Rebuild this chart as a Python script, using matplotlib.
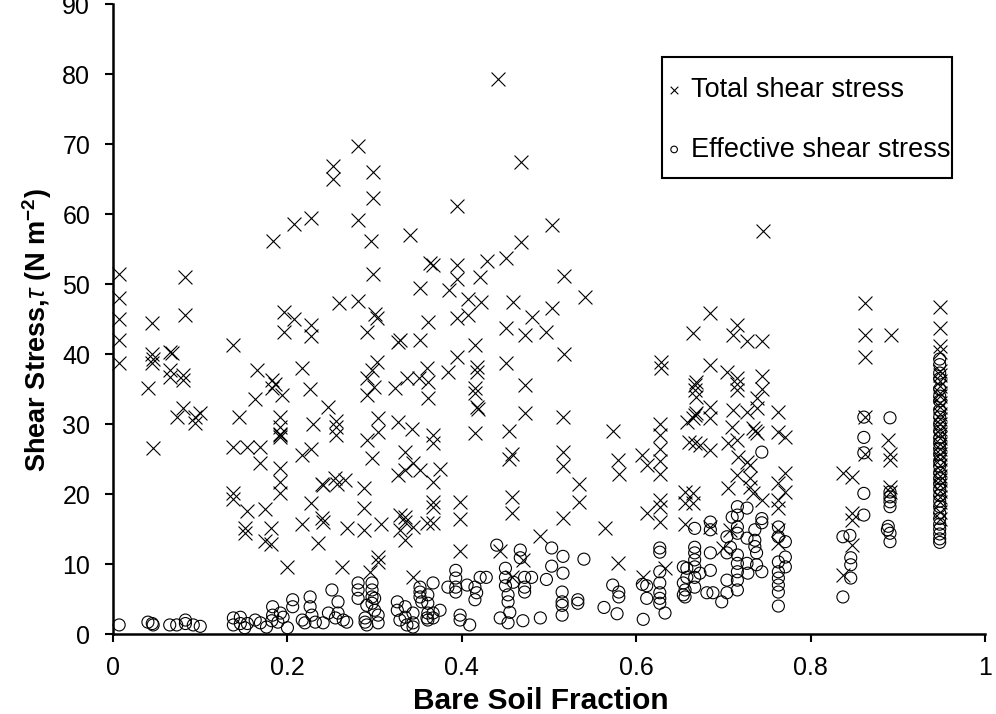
import matplotlib
matplotlib.use('Agg')
import matplotlib.pyplot as plt
from matplotlib.patches import Rectangle

plt.rcParams['font.family'] = ['Liberation Sans', 'DejaVu Sans']
plt.rcParams['mathtext.fontset'] = 'custom'
plt.rcParams['mathtext.rm'] = 'Liberation Sans:bold'
plt.rcParams['mathtext.it'] = 'Liberation Sans:italic'
plt.rcParams['mathtext.bf'] = 'Liberation Sans:bold'

# Total shear stress (x = bare soil fraction, y = N m-2)
total_x = [
    0.007, 0.007, 0.007, 0.007, 0.007,
    0.045, 0.045, 0.046, 0.045, 0.040, 0.046,
    0.065, 0.068, 0.065, 0.065, 0.073,
    0.083, 0.083, 0.080, 0.080, 0.080,
    0.094, 0.100, 0.094,
    0.138, 0.165, 0.163, 0.182, 0.182, 0.186, 0.194, 0.144, 0.138, 0.154,
    0.169, 0.169, 0.138, 0.138, 0.154, 0.174, 0.151, 0.151, 0.181, 0.174,
    0.181, 0.200,
    0.183, 0.196, 0.196, 0.192, 0.192, 0.192, 0.192, 0.192, 0.192, 0.192, 0.192,
    0.208, 0.208, 0.227, 0.227, 0.227, 0.217, 0.226, 0.229, 0.227, 0.217,
    0.227, 0.217, 0.240, 0.241, 0.240, 0.241, 0.235, 0.246, 0.252, 0.252,
    0.256, 0.256, 0.256, 0.255, 0.257, 0.266, 0.268, 0.263, 0.259,
    0.281, 0.281, 0.281, 0.298, 0.298, 0.296, 0.298, 0.300, 0.303, 0.291,
    0.303, 0.297, 0.291, 0.299, 0.291, 0.304, 0.304, 0.291, 0.297, 0.288,
    0.288, 0.288, 0.307, 0.304, 0.304, 0.295,
    0.341, 0.352, 0.364, 0.361, 0.327, 0.329, 0.352, 0.323, 0.337, 0.351,
    0.360, 0.361, 0.361, 0.327, 0.343, 0.367, 0.367, 0.335, 0.344, 0.335,
    0.327, 0.352, 0.375, 0.367, 0.367, 0.367, 0.329, 0.335, 0.335, 0.329,
    0.335, 0.344, 0.360, 0.367, 0.344, 0.367,
    0.394, 0.394, 0.394, 0.385, 0.407, 0.422, 0.421, 0.429, 0.451, 0.442,
    0.394, 0.407, 0.415, 0.394, 0.384, 0.417, 0.417, 0.415, 0.415, 0.417,
    0.419, 0.415, 0.398, 0.398, 0.398, 0.444, 0.451, 0.451, 0.454, 0.457,
    0.454, 0.457, 0.457, 0.457, 0.459,
    0.468, 0.468, 0.480, 0.472, 0.497, 0.503, 0.503, 0.517, 0.541, 0.517,
    0.472, 0.472, 0.516, 0.516, 0.516, 0.534, 0.534, 0.516, 0.490, 0.470,
    0.573, 0.579, 0.580, 0.564, 0.579, 0.607, 0.612, 0.612, 0.608,
    0.627, 0.627, 0.627, 0.627, 0.627, 0.628, 0.628, 0.627, 0.627, 0.627, 0.633,
    0.665, 0.685, 0.667, 0.667, 0.669, 0.669, 0.667, 0.658, 0.665, 0.669,
    0.660, 0.667, 0.673, 0.685, 0.685, 0.685, 0.685, 0.656, 0.656, 0.665,
    0.665, 0.656, 0.685, 0.700,
    0.716, 0.711, 0.727, 0.744, 0.745, 0.704, 0.716, 0.716, 0.716, 0.744,
    0.744, 0.738, 0.711, 0.727, 0.738, 0.734, 0.738, 0.736, 0.763, 0.763,
    0.771, 0.705, 0.716, 0.710, 0.717, 0.727, 0.731, 0.705, 0.716, 0.731,
    0.731, 0.734, 0.744, 0.771, 0.763, 0.771, 0.763, 0.763, 0.708, 0.763, 0.763,
    0.862, 0.862, 0.892, 0.862, 0.862, 0.862, 0.889, 0.891, 0.891, 0.891,
    0.891, 0.837, 0.847, 0.847, 0.847, 0.847, 0.837,
    0.948, 0.948, 0.948, 0.948, 0.948, 0.948, 0.948, 0.948, 0.948, 0.948,
    0.948, 0.948, 0.948, 0.948, 0.948, 0.948, 0.948, 0.948, 0.948, 0.948,
    0.948, 0.948, 0.948, 0.948, 0.948, 0.948, 0.948, 0.948, 0.948, 0.948,
    0.948, 0.948,
]
total_y = [
    51.4, 48.0, 45.0, 42.0, 38.7,
    44.4, 40.0, 39.3, 38.7, 35.1, 26.6,
    40.3, 40.1, 37.7, 36.7, 31.0,
    51.0, 45.6, 37.0, 36.3, 32.3,
    31.0, 31.6, 30.1,
    41.3, 37.7, 33.6, 36.3, 35.1, 35.8, 34.1, 31.0, 26.7, 26.7,
    26.7, 24.4, 20.1, 19.3, 17.6, 17.9, 15.1, 14.4, 15.1, 13.3,
    12.9, 9.6,
    56.2, 46.0, 43.2, 31.0, 29.6, 28.4, 28.1, 28.6, 23.7, 21.7, 20.1,
    58.6, 45.0, 59.4, 44.1, 42.6, 38.0, 35.0, 30.0, 26.4, 25.6,
    18.7, 15.7, 21.5, 21.3, 16.6, 16.0, 13.0, 32.4, 66.9, 65.1,
    30.4, 29.6, 28.4, 22.3, 21.4, 22.0, 15.1, 9.6, 47.3,
    69.7, 59.1, 47.6, 66.1, 62.3, 56.2, 51.4, 45.8, 45.1, 43.2,
    38.9, 37.7, 36.6, 35.3, 34.1, 30.9, 28.9, 27.7, 25.1, 20.9,
    18.0, 14.9, 15.7, 11.0, 10.3, 8.9,
    57.0, 49.5, 53.0, 44.6, 41.7, 42.0, 42.0, 35.1, 36.6, 36.6,
    38.0, 36.0, 33.7, 30.3, 29.3, 28.4, 27.3, 26.0, 24.5, 23.4,
    22.7, 23.4, 23.6, 21.7, 18.9, 18.2, 17.0, 16.7, 16.0, 14.9,
    13.4, 15.3, 15.8, 15.9, 8.1, 52.8,
    61.2, 52.7, 50.7, 49.1, 47.9, 47.5, 51.0, 53.3, 53.7, 79.3,
    45.1, 45.6, 41.3, 39.6, 37.4, 38.1, 37.4, 35.1, 34.4, 32.4,
    32.1, 28.7, 18.9, 16.4, 11.9, 11.9, 43.8, 38.7, 29.0, 25.7,
    25.0, 19.6, 17.3, 8.1, 47.5,
    67.4, 56.0, 45.3, 42.7, 43.2, 58.4, 46.6, 51.2, 48.2, 40.0,
    35.6, 31.6, 31.0, 26.0, 24.0, 21.4, 18.9, 16.6, 14.0, 10.6,
    29.0, 24.9, 22.9, 15.1, 10.1, 25.6, 24.2, 17.3, 8.1,
    30.0, 28.4, 26.4, 24.7, 22.8, 38.9, 38.0, 19.1, 18.2, 16.0, 9.5,
    43.0, 45.9, 35.6, 34.9, 36.0, 33.9, 31.3, 30.3, 30.9, 31.6,
    27.4, 27.3, 27.0, 38.4, 32.4, 30.9, 26.3, 20.3, 18.7, 20.1,
    18.7, 15.7, 15.3, 12.3,
    44.1, 42.7, 41.9, 41.9, 57.6, 37.4, 36.6, 35.8, 34.9, 36.9,
    35.0, 33.7, 32.0, 31.7, 32.3, 29.4, 28.7, 29.0, 31.7, 28.9,
    28.1, 27.3, 27.7, 29.6, 25.3, 24.6, 24.1, 20.9, 22.7, 22.3,
    21.0, 20.1, 19.1, 23.0, 21.6, 20.3, 19.1, 18.0, 14.9, 14.9, 13.0,
    47.3, 42.7, 42.7, 39.6, 31.0, 25.8, 27.7, 25.8, 24.9, 21.0,
    20.3, 23.0, 22.4, 17.3, 16.3, 12.7, 8.4,
    46.7, 43.8, 41.2, 40.3, 37.6, 37.0, 36.2, 35.4, 34.5, 34.0,
    33.0, 32.5, 31.5, 30.8, 30.0, 29.3, 28.6, 28.0, 27.2, 26.5,
    25.8, 25.0, 24.2, 23.5, 22.6, 22.0, 21.3, 20.5, 19.6, 18.8,
    17.5, 16.4,
]

# Effective shear stress
eff_x = [
    0.007, 0.040, 0.045, 0.046, 0.065, 0.073, 0.083, 0.083, 0.092, 0.100,
    0.138, 0.138, 0.146, 0.146, 0.151, 0.154, 0.163, 0.169, 0.176, 0.182,
    0.183, 0.183, 0.192, 0.195, 0.189, 0.200, 0.206, 0.206, 0.217, 0.220,
    0.226, 0.226, 0.228, 0.232, 0.241, 0.247, 0.251, 0.258, 0.255, 0.258,
    0.264, 0.268, 0.281, 0.281, 0.281, 0.289, 0.289, 0.297, 0.297, 0.297,
    0.297, 0.300, 0.300, 0.304, 0.304, 0.291, 0.291,
    0.326, 0.326, 0.329, 0.335, 0.335, 0.337, 0.344, 0.344, 0.344, 0.352,
    0.352, 0.354, 0.361, 0.361, 0.352, 0.361, 0.361, 0.367, 0.367, 0.360,
    0.375, 0.367, 0.384, 0.393, 0.393, 0.393, 0.393, 0.406, 0.415, 0.417,
    0.415, 0.421, 0.428, 0.398, 0.398, 0.409,
    0.440, 0.467, 0.467, 0.450, 0.450, 0.450, 0.459, 0.453, 0.453, 0.455,
    0.444, 0.453, 0.472, 0.472, 0.472, 0.470, 0.480, 0.497, 0.490, 0.503,
    0.503, 0.516, 0.516, 0.515, 0.515, 0.515, 0.515, 0.533, 0.533, 0.540,
    0.563, 0.573, 0.580, 0.580, 0.578, 0.607, 0.612, 0.612, 0.608,
    0.627, 0.627, 0.627, 0.627, 0.627, 0.627, 0.627, 0.633,
    0.654, 0.658, 0.658, 0.654, 0.656, 0.654, 0.656,
    0.667, 0.667, 0.667, 0.667, 0.667, 0.667, 0.667, 0.673,
    0.685, 0.685, 0.685, 0.685, 0.688, 0.681, 0.698,
    0.704, 0.704, 0.704, 0.704, 0.708, 0.710,
    0.716, 0.716, 0.716, 0.716, 0.716, 0.716, 0.716, 0.716, 0.716,
    0.727, 0.727, 0.727, 0.728, 0.736, 0.736, 0.736, 0.738, 0.738,
    0.744, 0.744, 0.744, 0.744,
    0.763, 0.763, 0.771, 0.771, 0.771, 0.763, 0.763, 0.763, 0.763, 0.763, 0.763,
    0.861, 0.861, 0.861, 0.861, 0.861, 0.891, 0.891, 0.891, 0.891, 0.891,
    0.888, 0.889, 0.891, 0.891, 0.837, 0.845, 0.846, 0.846, 0.846, 0.837,
    0.948, 0.948, 0.948, 0.948, 0.948, 0.948, 0.948, 0.948, 0.948, 0.948,
    0.948, 0.948, 0.948, 0.948, 0.948, 0.948, 0.948, 0.948, 0.948, 0.948,
    0.948, 0.948, 0.948, 0.948, 0.948, 0.948, 0.948, 0.948, 0.948, 0.948,
    0.948,
]
eff_y = [
    1.3, 1.7, 1.5, 1.3, 1.3, 1.3, 2.0, 1.5, 1.3, 1.1,
    2.3, 1.3, 1.5, 2.4, 0.9, 1.5, 2.0, 1.6, 1.0, 1.9,
    3.9, 2.7, 3.0, 2.4, 1.7, 0.9, 4.9, 3.9, 2.0, 1.6,
    5.3, 3.9, 2.7, 1.7, 1.6, 3.0, 6.3, 4.6, 2.3, 3.0,
    2.0, 1.7, 7.3, 6.3, 5.1, 2.3, 1.7, 7.3, 6.3, 5.3,
    4.4, 5.1, 3.4, 2.7, 1.6, 1.3, 4.1,
    4.6, 3.4, 2.0, 3.9, 2.4, 1.3, 3.0, 1.6, 1.0, 6.7,
    6.0, 4.6, 3.0, 2.0, 5.3, 5.6, 4.4, 3.0, 2.3, 2.3,
    3.4, 7.3, 6.7, 9.1, 8.0, 6.7, 6.0, 7.0, 6.7, 5.9,
    4.9, 8.1, 8.1, 2.7, 2.0, 1.3,
    12.7, 12.0, 10.9, 9.4, 8.1, 6.9, 7.4, 5.6, 4.6, 3.1,
    2.3, 1.6, 8.1, 6.7, 6.0, 1.9, 8.1, 7.8, 2.3, 12.3,
    9.7, 11.1, 8.7, 6.0, 4.6, 4.1, 2.7, 4.9, 4.4, 10.7,
    3.8, 7.0, 6.0, 5.3, 2.9, 7.1, 6.9, 5.1, 2.1,
    12.3, 11.7, 8.9, 7.3, 5.9, 5.1, 4.4, 3.0,
    9.6, 9.4, 8.1, 7.3, 6.3, 5.6, 5.3,
    15.1, 12.4, 11.6, 10.6, 9.6, 8.1, 6.7, 8.7,
    16.0, 14.9, 11.6, 9.1, 5.9, 5.9, 4.6,
    13.9, 11.6, 7.7, 5.9, 12.4, 16.7,
    18.2, 15.3, 14.4, 11.3, 10.1, 8.9, 7.7, 6.3, 17.0,
    18.0, 13.7, 10.1, 8.7, 14.9, 13.4, 12.5, 11.6, 9.9,
    26.0, 16.5, 15.9, 8.9,
    15.3, 13.9, 13.2, 11.0, 9.6, 10.3, 8.9, 8.0, 7.0, 6.0, 4.0,
    31.0, 28.1, 25.9, 20.1, 17.0, 30.9, 20.3, 19.6, 18.9, 18.2,
    14.9, 15.4, 14.4, 13.2, 13.9, 14.1, 10.9, 9.9, 8.0, 5.3,
    39.3, 38.5, 37.3, 36.5, 35.0, 34.0, 33.3, 32.0, 31.0, 30.0,
    29.0, 28.0, 27.3, 26.5, 25.7, 24.7, 24.0, 23.0, 22.2, 21.5,
    20.7, 19.8, 19.0, 18.2, 17.3, 16.5, 15.7, 15.0, 14.3, 13.6,
    13.1,
]

x_ticks = [0, 0.2, 0.4, 0.6, 0.8, 1]
x_tick_labels = ['0', '0.2', '0.4', '0.6', '0.8', '1']
y_ticks = [0, 10, 20, 30, 40, 50, 60, 70, 80, 90]

fig = plt.figure(figsize=(9.96, 7.14), dpi=100)
ax = fig.add_axes([0.1135, 0.112, 0.8755, 0.882])

ax.scatter(total_x, total_y, marker='x', s=100, color='black',
           linewidths=0.8, label='Total shear stress', clip_on=False)
ax.scatter(eff_x, eff_y, marker='o', s=75, facecolors='none',
           edgecolors='black', linewidths=0.8,
           label='Effective shear stress', clip_on=False)

ax.set_xlim(0, 1)
ax.set_ylim(0, 90)
ax.set_xticks(x_ticks)
ax.set_xticklabels(x_tick_labels)
ax.set_yticks(y_ticks)
ax.tick_params(axis='both', direction='out', length=6, width=1.5,
               labelsize=18, color='black')
ax.tick_params(axis='y', pad=10.5)
ax.tick_params(axis='x', pad=10)
for side in ['top', 'right']:
    ax.spines[side].set_visible(False)
for side in ['left', 'bottom']:
    ax.spines[side].set_linewidth(1.8)

ax.set_xlabel('Bare Soil Fraction', fontsize=21.5, fontweight='bold', labelpad=5)
ax.xaxis.label.set_x(0.491)
ax.set_ylabel(r'Shear Stress,$\tau$ (N m$^{-2}$)', fontsize=19.5,
              fontweight='bold', labelpad=6)
ax.yaxis.label.set_y(0.483)

# legend box drawn separately so its padding can match the original
box = Rectangle((0.6296, 0.7238), 0.3326, 0.1921, transform=ax.transAxes,
                facecolor='white', edgecolor='black', linewidth=1.5,
                zorder=4, clip_on=False)
ax.add_patch(box)
leg = ax.legend(loc='upper left', bbox_to_anchor=(0.638, 0.885),
                borderaxespad=0, borderpad=0, fontsize=19.5,
                markerscale=0.55, handlelength=0.35, handletextpad=0.45,
                labelspacing=1.25, frameon=False)
leg.set_zorder(5)

plt.savefig('out.png', dpi=100)
plt.close()
